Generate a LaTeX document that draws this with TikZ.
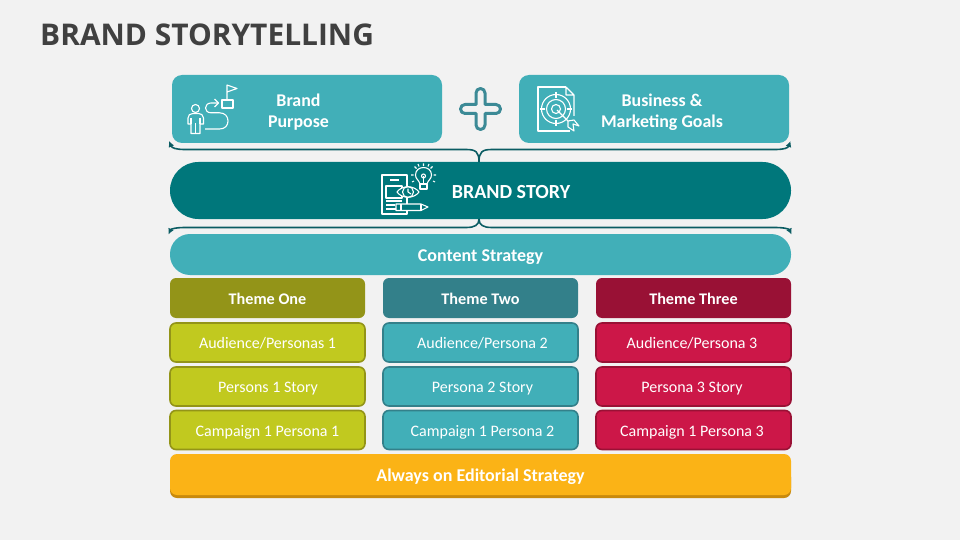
\documentclass[tikz,border=0pt]{standalone}
\usepackage{fontspec}
\setmainfont{Carlito}
\newfontfamily\titlefont{Open Sans}
\definecolor{bgc}{HTML}{F2F2F2}
\definecolor{tealc}{HTML}{41AFB8}
\definecolor{darkc}{HTML}{00777B}
\definecolor{olivec}{HTML}{939418}
\definecolor{limec}{HTML}{C1C91F}
\definecolor{themetwoc}{HTML}{33808A}
\definecolor{crimc}{HTML}{991135}
\definecolor{redc}{HTML}{CC1748}
\definecolor{orc}{HTML}{FBB316}
\definecolor{orsh}{HTML}{C98A0C}
\definecolor{plusc}{HTML}{3C8A96}
\definecolor{bracec}{HTML}{0B5C63}
\definecolor{titlec}{HTML}{404040}
\usetikzlibrary{arrows.meta}
\tikzset{
  x=1pt,y=-1pt,
  box/.style={rectangle,inner sep=0pt,outer sep=0pt,text=white,align=center,text height=12pt,text depth=0pt,font=\fontsize{16.2}{21}\selectfont\bfseries},
  wide/.style={box,text height=14pt,font=\fontsize{18}{21}\selectfont\bfseries},
  theme/.style={box,minimum width=195pt,minimum height=40pt,rounded corners=6pt},
  row/.style={box,minimum width=195pt,minimum height=39pt,rounded corners=6pt,line width=1.6pt,font=\fontsize{16}{19}\selectfont},
  lbl/.style={inner sep=0pt,text=white,align=center,font=\fontsize{17.9}{21}\selectfont\bfseries},
  ico/.style={draw=white,line width=1.1pt,line join=round},
  brace/.style={draw=bracec,line width=1.6pt,-{Latex[length=6pt,width=6pt]}},
}
\begin{document}
\begin{tikzpicture}
\fill[bgc] (0,0) rectangle (960,540);
\useasboundingbox (0,0) rectangle (960,540);
\node[anchor=west,inner sep=0pt,text=titlec,font=\titlefont\fontsize{29.9}{36}\selectfont\bfseries] (title) at (40,35) {BRAND STORYTELLING};

% top boxes
\node[box,fill=tealc,minimum width=270pt,minimum height=68pt,rounded corners=10pt] (purpose) at (307,109) {};
\node[box,fill=tealc,minimum width=270pt,minimum height=68pt,rounded corners=10pt] (goals) at (654,109) {};
\node[lbl] (purposet) at (298.5,112.5) {Brand\\Purpose};
\node[lbl] (goalst) at (662,112) {Business \&\\Marketing Goals};

% plus
\draw[plusc,line width=3pt,line join=round] (476,93) arc[start angle=180,end angle=0,x radius=4.5,y radius=-4.5] -- (485,104.5) -- (496,104.5) arc[start angle=90,end angle=-90,x radius=4.5,y radius=-4.5] -- (485,113.5) -- (485,125) arc[start angle=0,end angle=-180,x radius=4.5,y radius=-4.5] -- (476,113.5) -- (465,113.5) arc[start angle=270,end angle=90,x radius=4.5,y radius=-4.5] -- (476,104.5) -- cycle;

% story band
\node[box,fill=darkc,minimum width=621pt,minimum height=57pt,rounded corners=28.4pt] (story) at (480.5,190.5) {};
\node[lbl,font=\fontsize{20}{24}\selectfont\bfseries] (storyt) at (511,192) {BRAND STORY};

% content
\node[wide,fill=tealc,minimum width=621pt,minimum height=41pt,rounded corners=20pt] (content) at (480.5,254.5) {Content Strategy};

% braces
\coordinate (jt) at (479,162);
\coordinate (jb) at (479,219);
\coordinate (tl) at (169,141);
\coordinate (tr) at (790.5,141);
\coordinate (bl) at (168.5,234.5);
\coordinate (br) at (791.5,234.5);
\draw[brace] (jt) .. controls (479,152) and (476,149.5) .. (466,149.5) -- (185,149.5) .. controls (176,149.5) and (172,148) .. (tl);
\draw[brace] (jt) .. controls (479,152) and (482,149.5) .. (492,149.5) -- (775,149.5) .. controls (784,149.5) and (788,148) .. (tr);
\draw[brace] (jb) .. controls (479,225) and (475,227.5) .. (466,227.5) -- (185,227.5) .. controls (176,227.5) and (171,229) .. (bl);
\draw[brace] (jb) .. controls (479,225) and (483,227.5) .. (492,227.5) -- (775,227.5) .. controls (784,227.5) and (789,229) .. (br);

% columns
\node[theme,fill=olivec] (t1) at (267.5,298) {Theme One};
\node[theme,fill=themetwoc] (t2) at (480.5,298) {Theme Two};
\node[theme,fill=crimc] (t3) at (693.5,298) {Theme Three};
\node[row,fill=limec,draw=olivec] (a1) at (267.5,342.5) {Audience/Personas 1};
\node[row,fill=limec,draw=olivec] (s1) at (267.5,386.5) {\hspace*{1pt}Persons 1 Story};
\node[row,fill=limec,draw=olivec] (c1) at (267.5,430) {Campaign 1 Persona 1};
\node[row,fill=tealc,draw=themetwoc] (a2) at (480.5,342.5) {\hspace*{4pt}Audience/Persona 2};
\node[row,fill=tealc,draw=themetwoc] (s2) at (480.5,386.5) {\hspace*{4pt}Persona 2 Story};
\node[row,fill=tealc,draw=themetwoc] (c2) at (480.5,430) {\hspace*{4pt}Campaign 1 Persona 2};
\node[row,fill=redc,draw=crimc] (a3) at (693.5,342.5) {Audience/Persona 3\hspace*{3pt}};
\node[row,fill=redc,draw=crimc] (s3) at (693.5,386.5) {Persona 3 Story\hspace*{3pt}};
\node[row,fill=redc,draw=crimc] (c3) at (693.5,430) {Campaign 1 Persona 3\hspace*{3pt}};

% always on
\fill[orsh,rounded corners=7pt] (170,470) rectangle (791,498);
\node[wide,fill=orc,minimum width=621pt,minimum height=41pt,rounded corners=7pt] (always) at (480.5,474.5) {Always on Editorial Strategy};

% icon: person and path
\draw[ico] (195.5,108.5) circle (4);
\draw[ico] (188,124) -- (188,118) .. controls (188,115) and (190,113.5) .. (193,113.5) -- (198.5,113.5) .. controls (201,113.5) and (203.5,115) .. (203.5,118) -- (203.5,124) -- (200,124) -- (200,133.5) -- (191,133.5) -- (191,124) -- cycle;
\draw[ico] (191,118) -- (191,124) (200,118) -- (200,124) (195.5,123) -- (195.5,133.5);
\draw[ico] (205,129) -- (219.5,129) .. controls (225,129) and (228,125.5) .. (228,121) .. controls (228,116.5) and (225,112.8) .. (219.5,112.8) -- (211,112.8) .. controls (207.5,112.8) and (205.5,110.5) .. (205.5,108) .. controls (205.5,105.5) and (207.5,103) .. (211,103) -- (218,103);
\draw[ico] (214.5,99) -- (218.5,103) -- (214.5,107);
\draw[ico] (222,100) rectangle (233,108);
\draw[ico] (227,100) -- (227,85) -- (237,88.5) -- (227,92);

% icon: target
\draw[ico] (566,87) -- (538,87) -- (538,131) -- (570,131);
\draw[ico] (574,116) -- (574,95) -- (566,87) -- (566,95) -- (574,95);
\draw[ico] (556,109) circle (14.5);
\draw[ico] (556,109) circle (9.5);
\draw[ico] (556,109) circle (4.5);
\draw[ico] (556,92) -- (556,98) (556,120) -- (556,126) (540,109) -- (545,109) (567,109) -- (572,109);
\draw[ico] (557,110) -- (568,121);
\draw[ico] (568,121) -- (574,120) -- (579,126) -- (573,124) -- (574,131) -- (568,127) -- cycle;

% icon: story
\draw[ico] (382,175) rectangle (407,214);
\draw[ico] (390,180) -- (399,180);
\draw[ico] (386,186) rectangle (402,198);
\draw[ico] (386,201) -- (402,201) (386,205) -- (395,205) (386,209) -- (402,209);
\draw[ico,fill=darkc] (397,192) .. controls (402,185) and (414,185) .. (419,192) .. controls (414,199) and (402,199) .. (397,192) -- cycle;
\draw[ico] (408,192) circle (5.5);
\draw[ico] (408,192) -- (408,188.5) (408,192) -- (411,194);
\draw[ico,fill=darkc] (396,204) -- (421,204) -- (428,207) -- (421,210.5) -- (396,210.5) -- cycle;
\draw[ico] (401,204) -- (401,210.5) (421,204) -- (421,210.5);
\draw[ico] (420,184) .. controls (419,180) and (415.5,179) .. (415.5,175) .. controls (415.5,165) and (431.5,165) .. (431.5,175) .. controls (431.5,179) and (428,180) .. (427,184) -- cycle;
\draw[ico] (420,184) rectangle (427,189);
\draw[ico] (423.5,184) -- (423.5,176);
\draw[ico] (423.5,176) circle (2);
\draw[ico] (423.5,163.5) -- (423.5,166) (414.5,166.5) -- (416.5,168.5) (432.5,166.5) -- (430.5,168.5) (411,175) -- (413.5,175) (433.5,175) -- (436,175) (412,182) -- (414,181) (435,182) -- (433,181) (418,164) -- (419,166.5) (429,164) -- (428,166.5);
\end{tikzpicture}
\end{document}
